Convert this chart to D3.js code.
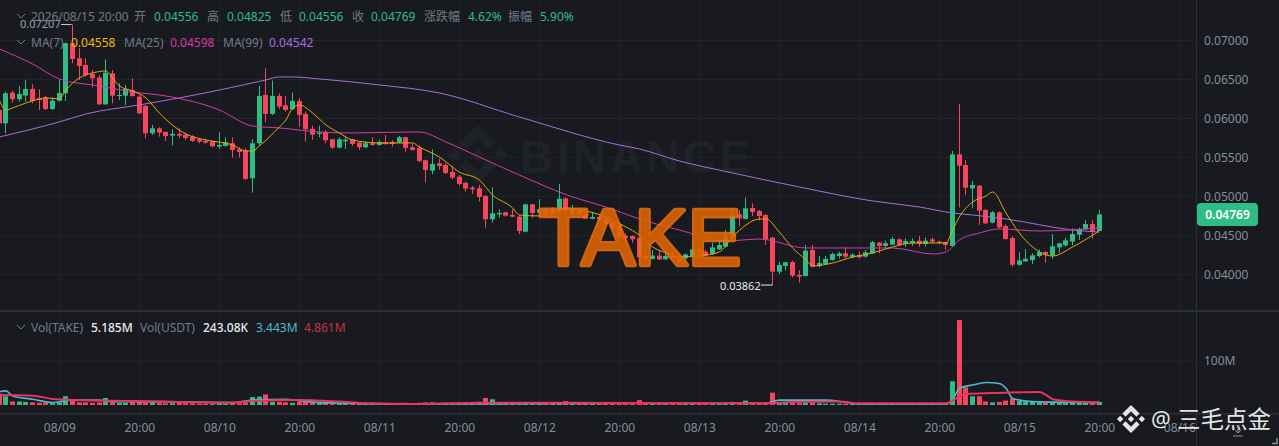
<!DOCTYPE html>
<html>
<head>
<meta charset="utf-8">
<script src="https://cdn.jsdelivr.net/npm/d3@7"></script>
<style>
  html, body { margin: 0; padding: 0; background: #181a20; overflow: hidden; }
  text { font-family: "Noto Sans", "Noto Sans CJK SC", sans-serif; }
</style>
</head>
<body>
<svg id="vis" width="1279" height="446"></svg>
<script>
// candle prices in units of 0.00001, one hourly candle per entry
const opens = [6110,5938,6332,6247,6294,6379,6259,6272,6122,6229,6324,6966,6773,6687,6572,6525,6182,6580,6289,6294,6366,6281,6161,5810,5874,5828,5780,5802,5793,5768,5733,5712,5703,5639,5648,5682,5605,5588,5233,5682,6303,6059,6290,6170,6119,6226,6059,5866,5802,5828,5733,5626,5708,5733,5691,5631,5682,5661,5695,5699,5691,5759,5631,5622,5464,5331,5425,5404,5314,5254,5173,5113,5104,5006,4706,4770,4796,4762,4740,4547,4898,4791,4825,4834,4804,4975,4770,4817,4778,4714,4736,4710,4663,4629,4496,4492,4462,4235,4197,4240,4192,4235,4205,4205,4235,4321,4291,4261,4321,4355,4475,4770,4710,4851,4813,4762,4471,4034,4107,4158,3991,3978,4312,4107,4132,4184,4235,4269,4218,4248,4227,4269,4406,4364,4381,4449,4389,4398,4432,4389,4449,4419,4415,4363,5540,5403,5103,5138,4825,4663,4795,4620,4466,4123,4166,4183,4235,4286,4239,4346,4372,4419,4508,4577,4645,4556];
const highs = [6131,6345,6358,6418,6495,6439,6375,6290,6272,6495,6974,7207,6901,6773,6623,6559,6760,6623,6452,6431,6516,6302,6174,5917,5887,5830,5862,5875,5819,5785,5746,5742,5716,5823,5759,5759,5631,5618,5733,6418,6645,6487,6324,6290,6333,6260,6089,5909,5909,5853,5740,5759,5759,5742,5703,5712,5759,5725,5789,5725,5776,5765,5673,5656,5470,5605,5485,5425,5391,5275,5190,5134,5147,5019,5117,4835,4805,4835,4761,4905,4905,4962,4847,4860,5159,4988,4890,4847,4795,4795,4753,4740,4676,4635,4526,4496,4470,4333,4312,4312,4291,4291,4227,4269,4432,4376,4312,4406,4419,4569,4847,4826,4988,4911,4826,4770,4483,4162,4162,4175,4055,4376,4376,4235,4235,4278,4291,4346,4269,4291,4312,4428,4415,4432,4483,4462,4462,4462,4492,4475,4475,4432,4419,5583,6186,5467,5198,5146,4838,4812,4804,4641,4491,4282,4324,4269,4320,4299,4513,4406,4474,4590,4598,4697,4697,4825];
const lows = [5930,5810,6204,6217,6217,6195,6110,6110,6110,6217,6225,6709,6495,6538,6401,6174,6174,6195,6238,6174,6281,6058,5746,5789,5767,5712,5656,5746,5725,5699,5682,5678,5631,5609,5639,5498,5498,5211,5049,5661,5952,6046,6123,6089,6110,5896,5703,5725,5759,5682,5609,5618,5609,5648,5596,5618,5652,5652,5661,5639,5682,5575,5588,5438,5177,5284,5340,5288,5220,5138,5061,5031,4933,4599,4663,4728,4740,4732,4517,4540,4727,4783,4740,4761,4791,4676,4740,4740,4710,4705,4697,4633,4590,4470,4406,4406,4162,4184,4192,4184,4184,4192,4141,4154,4230,4227,4227,4248,4312,4346,4419,4620,4705,4749,4689,4376,3862,4004,4047,3961,3893,3970,4090,4090,4120,4175,4205,4205,4205,4205,4214,4261,4269,4346,4372,4368,4355,4364,4355,4355,4398,4385,4312,4354,4859,5018,4847,4633,4645,4654,4590,4444,4098,4110,4158,4132,4217,4149,4196,4277,4354,4372,4440,4568,4461,4556];
const closes = [5938,6324,6247,6315,6379,6225,6238,6122,6229,6328,6966,6764,6675,6559,6516,6182,6589,6294,6302,6379,6289,6067,5810,5874,5819,5776,5802,5780,5750,5712,5703,5691,5643,5661,5695,5596,5571,5224,5682,6290,6059,6290,6153,6110,6226,6046,5862,5793,5819,5721,5626,5733,5729,5673,5631,5682,5661,5699,5673,5673,5759,5622,5596,5455,5340,5417,5391,5301,5241,5160,5100,5091,4993,4706,4783,4788,4753,4740,4556,4898,4787,4834,4783,4783,4971,4825,4834,4770,4714,4736,4705,4654,4603,4474,4466,4449,4218,4192,4240,4192,4235,4205,4154,4256,4321,4269,4235,4346,4376,4475,4762,4719,4847,4800,4749,4453,4034,4120,4154,3983,3970,4304,4098,4145,4197,4261,4269,4227,4252,4218,4282,4411,4364,4398,4453,4376,4428,4428,4389,4432,4419,4402,4376,5540,5394,5112,5146,4817,4654,4795,4603,4453,4123,4179,4200,4243,4286,4252,4359,4397,4436,4517,4581,4645,4556,4769];
// volume in millions of TAKE
const volumes = [26,20,8,8,7,6,5,5,4,6,20,11,6,6,5,6,16,6,5,5,6,8,6,7,5,4,4,5,4,4,3,3,3,4,3,5,4,6,18,19,24,7,7,6,5,8,7,5,4,5,4,3,3,4,3,3,3,3,3,3,4,5,4,5,6,6,4,5,5,4,4,4,7,16,13,4,4,3,7,6,5,4,3,4,5,9,5,4,4,3,3,4,4,5,4,3,11,5,4,3,3,3,3,3,3,3,3,3,3,4,7,5,10,5,4,6,28,6,5,5,4,6,6,4,3,3,3,3,3,3,3,4,3,3,3,3,2,2,3,2,2,2,3,54,193,40,20,20,8,6,7,10,15,9,7,7,6,5,6,5,5,6,5,6,4,7];

// moving averages read at the candles where the line bends
const ma7Idx = [0,1,2,4,6,7,9,10,12,14,16,17,18,20,22,24,28,31,35,37,38,39,42,43,44,45,47,49,51,53,57,62,63,66,69,72,74,77,78,81,83,85,88,91,94,96,98,100,102,106,108,110,112,114,115,117,119,121,122,125,128,131,134,137,142,143,144,146,148,149,151,153,155,157,158,161,165];
const ma7 = [6238,6110,6135,6199,6251,6264,6251,6366,6520,6585,6610,6520,6418,6354,6264,6071,5801,5724,5660,5583,5583,5647,5891,5981,6135,6174,6071,5917,5814,5724,5686,5686,5635,5506,5313,5211,5018,4851,4761,4749,4787,4851,4813,4736,4607,4505,4351,4274,4222,4248,4286,4479,4633,4710,4710,4543,4338,4184,4107,4145,4222,4274,4351,4402,4402,4569,4736,4928,5005,5057,4787,4530,4351,4248,4235,4351,4558];
const ma25Idx = [0,5,9,15,20,25,33,38,42,48,53,62,63,67,72,78,86,91,96,102,109,114,121,127,134,140,142,144,147,150,156,165];
const ma25 = [6893,6700,6508,6418,6341,6289,6110,5904,5879,5827,5814,5827,5827,5699,5506,5275,4993,4864,4710,4569,4428,4453,4338,4338,4338,4261,4286,4440,4530,4582,4556,4598];
const ma99Idx = [0,9,13,21,27,40,42,44,48,57,66,78,93,96,102,110,120,131,138,143,146,151,161,165];
const ma99 = [5763,5956,6058,6174,6264,6495,6533,6533,6508,6431,6328,6020,5660,5609,5455,5301,5121,4941,4864,4787,4761,4710,4569,4542];

const volMa5Idx = [0,1,2,5,8,11,15,17,25,35,38,43,45,48,63,100,115,117,124,127,129,142,143,144,146,148,150,151,152,155,165];
const volMa5 = [30.4,32,20.5,13,5.4,11.5,11.5,7.7,7.7,5.4,11.5,13,10,5.4,2.4,4,4,11,11,6,2.4,2.4,11.5,38,45.5,51,49,38,15,7.7,5.4];
const volMa10Idx = [0,5,8,11,20,35,38,45,51,55,63,72,85,100,116,118,126,129,142,144,145,149,156,157,158,161,165];
const volMa10 = [22.8,21.3,13.7,11.5,9.2,5.4,9.2,11.5,7.7,3.9,2.4,5,5,4,4,6,8,3.9,3.9,19,25,27,29.6,23,13,7.7,6];

const priceTicks = [0.07, 0.065, 0.06, 0.055, 0.05, 0.045, 0.04];
const timeTickIdx = [9,21,33,45,57,69,81,93,105,117,129,141,153,165,177];
const timeLabels = ['08/09','20:00','08/10','20:00','08/11','20:00','08/12','20:00','08/13','20:00','08/14','20:00','08/15','20:00','08/16'];

const C = { bg:'#181a20', grid:'#22252b', line:'#2b2f36', tick:'#848e9c', dim:'#707a8a', up:'#2ebd85', down:'#f6465d',
  gold:'#e0a90e', pink:'#d53ba4', purple:'#a66ee0', cyan:'#4cb9cf', volRed:'#e8345f' };

const PRICE = v => v / 1e5;
const candles = opens.map((o, i) => ({ i, o: PRICE(o), h: PRICE(highs[i]), l: PRICE(lows[i]), c: PRICE(closes[i]), v: volumes[i] }));

const vis = d3.select('#vis');
const x = d3.scaleLinear().domain([0, 165]).range([-0.7, 1099.3]);
const y = d3.scaleLinear().domain([0.04, 0.07]).range([274.3, 40.6]);
const yVol = d3.scaleLinear().domain([0, 100]).range([405, 361]);

const defs = vis.append('defs');
defs.append('clipPath').attr('id', 'mainClip').append('rect').attr('width', 1196).attr('height', 310);
defs.append('clipPath').attr('id', 'volClip').append('rect').attr('y', 312).attr('width', 1196).attr('height', 101);

vis.append('rect').attr('width', 1279).attr('height', 446).attr('fill', C.bg);

// grid
const gridV = vis.append('g').attr('stroke', C.grid);
timeTickIdx.forEach(d => {
  gridV.append('line').attr('x1', x(d)).attr('x2', x(d)).attr('y1', 0).attr('y2', 310);
  gridV.append('line').attr('x1', x(d)).attr('x2', x(d)).attr('y1', 312).attr('y2', 413);
});
priceTicks.forEach(d => gridV.append('line').attr('x1', 0).attr('x2', 1196).attr('y1', y(d)).attr('y2', y(d)));
gridV.append('line').attr('x1', 0).attr('x2', 1196).attr('y1', yVol(100)).attr('y2', yVol(100));

// background watermark
const logo = 'M38.73 53.2 63.31 28.63 87.9 53.22 102.2 38.92 63.31 0 24.43 38.9 38.73 53.2zM0 63.31 14.3 49 28.6 63.31 14.3 77.61zM38.73 73.41 63.31 97.98 87.9 73.39 102.21 87.69 63.31 126.61 24.43 87.7 38.73 73.41zM97.99 63.31 112.3 49.01 126.6 63.31 112.3 77.61zM77.83 63.3 63.31 48.78 52.58 59.51 51.34 60.75 48.8 63.3 63.31 77.82 77.83 63.3z';
vis.append('path').attr('d', logo).attr('fill', '#1f2228').attr('transform', 'translate(448,125) scale(0.47)');
vis.append('text').text('BINANCE').attr('x', 520).attr('y', 173).attr('textLength', 230)
  .attr('font-size', 46).attr('font-weight', 700).attr('fill', '#1f2228').style('font-family', '"Liberation Sans"');

// candles
const main = vis.append('g').attr('clip-path', 'url(#mainClip)');
const colour = d => d.c >= d.o ? C.up : C.down;
const bodyX = d => Math.round(x(d.i) - 2.5);

main.selectAll('rect.wick').data(candles).enter().append('rect').classed('wick', true)
  .attr('x', d => bodyX(d) + 2).attr('width', 1)
  .attr('y', d => y(d.h)).attr('height', d => y(d.l) - y(d.h))
  .attr('fill', colour);
main.selectAll('rect.body').data(candles).enter().append('rect').classed('body', true)
  .attr('x', bodyX).attr('width', 5)
  .attr('y', d => y(Math.max(d.o, d.c)))
  .attr('height', d => Math.max(1, Math.abs(y(d.o) - y(d.c))))
  .attr('fill', colour);

// moving averages
const maLine = (idx, vals, yScale, k) => d3.line().curve(d3.curveMonotoneX).x(d => x(d)).y((d, i) => yScale(vals[i] * k))(idx);
[[ma99Idx, ma99, C.purple], [ma25Idx, ma25, C.pink], [ma7Idx, ma7, C.gold]].forEach(([idx, vals, col]) => {
  main.append('path').attr('d', maLine(idx, vals, y, 1e-5)).attr('fill', 'none').attr('stroke', col).attr('stroke-width', 1);
});

// TAKE overlay
vis.append('text').text('TAKE').attr('x', 539).attr('y', 265.3).attr('textLength', 202)
  .attr('font-size', 80).attr('fill', '#e26400').attr('opacity', 0.88)
  .attr('stroke', '#e97013').attr('stroke-width', 4.6).attr('stroke-linejoin', 'round')
  .style('paint-order', 'stroke').style('font-family', '"Liberation Sans"');

// high / low marks
const markText = (txt, xx, yy, col) => vis.append('text').text(txt).attr('x', xx).attr('y', yy + 4)
  .attr('font-size', 11).attr('fill', col);
markText('0.07207', 20, y(0.07207), '#9aa0aa');
vis.append('line').attr('x1', 61).attr('x2', x(11) - 1).attr('y1', y(0.07207)).attr('y2', y(0.07207)).attr('stroke', '#c8ccd2');
markText('0.03862', 720, y(0.03862) + 0.5, '#eaecef');
vis.append('line').attr('x1', 761).attr('x2', x(116)).attr('y1', y(0.03862)).attr('y2', y(0.03862)).attr('stroke', '#eaecef');

// volume panel
const volG = vis.append('g').attr('clip-path', 'url(#volClip)');
volG.selectAll('rect.vol').data(candles).enter().append('rect').classed('vol', true)
  .attr('x', bodyX).attr('width', 5)
  .attr('y', d => yVol(d.v)).attr('height', d => yVol(0) - yVol(d.v))
  .attr('fill', colour);
volG.append('path').attr('d', maLine(volMa5Idx, volMa5, yVol, 1)).attr('fill', 'none').attr('stroke', C.cyan).attr('stroke-width', 1.6);
volG.append('path').attr('d', maLine(volMa10Idx, volMa10, yVol, 1)).attr('fill', 'none').attr('stroke', C.volRed).attr('stroke-width', 2);

// frame
const frame = vis.append('g');
frame.append('rect').attr('x', 0).attr('y', 310).attr('width', 1279).attr('height', 2).attr('fill', C.line);
frame.append('rect').attr('x', 0).attr('y', 413).attr('width', 1279).attr('height', 1.5).attr('fill', C.line);
frame.append('rect').attr('x', 1196).attr('y', 0).attr('width', 1).attr('height', 446).attr('fill', C.line);

// axes
const styleAxis = g => {
  g.select('.domain').remove();
  g.selectAll('text').attr('fill', C.tick).attr('font-size', 12).style('font-family', '"Noto Sans"');
};
vis.append('g').attr('transform', 'translate(1196,0)')
  .call(d3.axisRight(y).tickValues(priceTicks).tickSize(0).tickPadding(8).tickFormat(d => d.toFixed(5)))
  .call(styleAxis);
vis.append('g').attr('transform', 'translate(1196,0)')
  .call(d3.axisRight(yVol).tickValues([100]).tickSize(0).tickPadding(8).tickFormat(d => d + 'M'))
  .call(styleAxis);
vis.append('g').attr('transform', 'translate(0,413)')
  .call(d3.axisBottom(x).tickValues(timeTickIdx).tickSize(0).tickPadding(10).tickFormat((d, i) => timeLabels[i]))
  .call(styleAxis);

// last price tag
vis.append('rect').attr('x', 1197).attr('y', 203).attr('width', 61).attr('height', 23).attr('rx', 4).attr('fill', C.up);
vis.append('text').text('0.04769').attr('x', 1227.5).attr('y', 219).attr('text-anchor', 'middle')
  .attr('font-size', 12).attr('font-weight', 600).attr('fill', '#fff');

// legends
const legendText = (xx, yy, txt, col, weight) => vis.append('text').text(txt).attr('x', xx).attr('y', yy)
  .attr('font-size', 12).attr('fill', col).attr('font-weight', weight || 400);
const chevron = yy => vis.append('path').attr('d', `M17 ${yy - 2} L21 ${yy + 2} L25 ${yy - 2}`).attr('fill', 'none').attr('stroke', C.dim);

chevron(16);
const legendRow1 = [[31,'2026/08/15 20:00',C.dim],[134,'开',C.dim],[154,'0.04556',C.up],[207,'高',C.dim],[227,'0.04825',C.up],[280,'低',C.dim],[299,'0.04556',C.up],[352,'收',C.dim],[371,'0.04769',C.up],[424,'涨跌幅',C.dim],[468,'4.62%',C.up],[508,'振幅',C.dim],[540,'5.90%',C.up]];
legendRow1.forEach(d => legendText(d[0], 21, d[1], d[2]));
chevron(42);
const legendRow2 = [[31,'MA(7)',C.dim],[71,'0.04558','#f0b90b'],[124,'MA(25)',C.dim],[170,'0.04598',C.pink],[223,'MA(99)',C.dim],[269,'0.04542',C.purple]];
legendRow2.forEach(d => legendText(d[0], 47, d[1], d[2]));
chevron(327);
const legendRow3 = [[31,'Vol(TAKE)',C.dim],[91,'5.185M','#eaecef',500],[140,'Vol(USDT)',C.dim],[203,'243.08K','#eaecef',500],[256,'3.443M',C.cyan],[304,'4.861M','#c8304f']];
legendRow3.forEach(d => legendText(d[0], 332, d[1], d[2], d[3]));

// author watermark, bottom right
vis.append('path').attr('d', logo).attr('fill', '#e4e4e4').attr('transform', 'translate(1117,405) scale(0.221)');
vis.append('text').text('@').attr('x', 1151).attr('y', 427).attr('font-size', 22).attr('fill', '#e4e4e4');
vis.append('text').text('三毛点金').attr('x', 1177).attr('y', 428).attr('font-size', 23.5).attr('fill', '#e4e4e4')
  .style('font-family', '"Noto Sans CJK SC"');
vis.append('path').attr('d', 'M1238 425 V433 M1235 430 L1238 433 L1241 430 M1233 436 H1243').attr('fill', 'none').attr('stroke', C.tick);
vis.append('path').attr('d', 'M1272 443.5 H1277 V438').attr('fill', 'none').attr('stroke', C.tick).attr('stroke-width', 1.5);
</script>
</body>
</html>
